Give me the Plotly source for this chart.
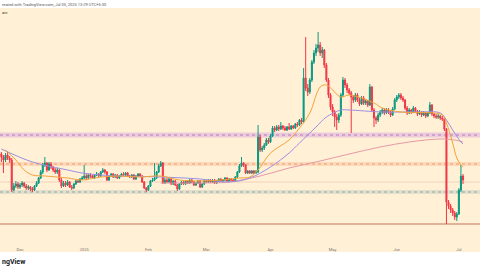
import pandas as pd
import plotly.graph_objects as go

# ---------------- data ----------------
start_date = "2024-11-22"
first_open = 1.70
closes = [1.67, 1.64, 1.69, 1.66, 1.64, 1.34, 1.38, 1.40, 1.37, 1.39,
          1.41, 1.38, 1.36, 1.37, 1.35, 1.34, 1.38, 1.41, 1.46, 1.52,
          1.59, 1.61, 1.54, 1.60, 1.57, 1.54, 1.52, 1.54, 1.44, 1.38,
          1.41, 1.39, 1.42, 1.37, 1.36, 1.40, 1.43, 1.42, 1.45, 1.46,
          1.48, 1.46, 1.49, 1.48, 1.46, 1.49, 1.50, 1.48, 1.52, 1.54,
          1.52, 1.44, 1.48, 1.50, 1.47, 1.49, 1.46, 1.48, 1.50, 1.49,
          1.51, 1.48, 1.47, 1.49, 1.45, 1.48, 1.50, 1.48, 1.42, 1.36,
          1.34, 1.38, 1.43, 1.44, 1.46, 1.52, 1.58, 1.61, 1.41, 1.44,
          1.42, 1.45, 1.40, 1.43, 1.39, 1.35, 1.40, 1.42, 1.40, 1.43,
          1.41, 1.44, 1.42, 1.39, 1.41, 1.43, 1.37, 1.40, 1.43, 1.42,
          1.44, 1.42, 1.44, 1.41, 1.43, 1.45, 1.43, 1.44, 1.46, 1.43,
          1.45, 1.44, 1.43, 1.47, 1.52, 1.58, 1.61, 1.59, 1.51, 1.53,
          1.51, 1.53, 1.51, 1.52, 1.87, 1.74, 1.76, 1.79, 1.84, 1.82,
          1.88, 1.96, 1.94, 1.97, 1.95, 1.98, 1.96, 1.94, 1.97, 1.95,
          1.98, 1.96, 2.00, 1.99, 2.04, 2.02, 2.46, 2.36, 2.32, 2.44,
          2.62, 2.71, 2.76, 2.79, 2.71, 2.74, 2.59, 2.44, 2.29, 2.17,
          2.12, 2.07, 2.04, 2.09, 2.29, 2.44, 2.39, 2.34, 2.31, 2.27,
          2.24, 2.29, 2.24, 2.20, 2.26, 2.21, 2.23, 2.19, 2.37, 2.14,
          2.06, 2.04, 2.09, 2.12, 2.14, 2.11, 2.14, 2.12, 2.09, 2.15,
          2.24, 2.27, 2.29, 2.26, 2.24, 2.16, 2.11, 2.14, 2.12, 2.16,
          2.13, 2.10, 2.12, 2.09, 2.11, 2.08, 2.11, 2.19, 2.10, 2.08,
          2.07, 2.08, 2.06, 2.05, 1.95, 1.22, 1.18, 1.14, 1.11, 1.07,
          1.10, 1.34, 1.48, 1.44]
highs = [1.72, 1.69, 1.71, 1.72, 1.68, 1.66, 1.41, 1.43, 1.42, 1.41,
         1.43, 1.42, 1.40, 1.39, 1.38, 1.37, 1.39, 1.43, 1.47, 1.54,
         1.61, 1.67, 1.62, 1.62, 1.62, 1.58, 1.56, 1.56, 1.55, 1.46,
         1.43, 1.43, 1.44, 1.43, 1.39, 1.41, 1.44, 1.45, 1.46, 1.48,
         1.59, 1.50, 1.50, 1.51, 1.49, 1.50, 1.52, 1.51, 1.53, 1.56,
         1.55, 1.53, 1.49, 1.51, 1.51, 1.50, 1.50, 1.49, 1.51, 1.52,
         1.52, 1.52, 1.49, 1.50, 1.50, 1.49, 1.51, 1.51, 1.49, 1.43,
         1.37, 1.39, 1.44, 1.46, 1.61, 1.53, 1.60, 1.63, 1.62, 1.46,
         1.46, 1.47, 1.46, 1.44, 1.44, 1.40, 1.41, 1.43, 1.43, 1.44,
         1.44, 1.45, 1.45, 1.43, 1.42, 1.44, 1.44, 1.41, 1.44, 1.44,
         1.45, 1.45, 1.45, 1.45, 1.44, 1.46, 1.46, 1.45, 1.47, 1.47,
         1.46, 1.46, 1.45, 1.48, 1.53, 1.60, 1.67, 1.62, 1.60, 1.54,
         1.54, 1.54, 1.54, 1.54, 1.99, 1.89, 1.78, 1.81, 1.86, 1.86,
         1.90, 1.98, 1.98, 1.99, 1.99, 2.02, 1.99, 1.98, 1.98, 2.01,
         1.99, 1.99, 2.01, 2.02, 2.05, 2.06, 2.56, 2.87, 2.40, 2.46,
         2.64, 2.74, 2.80, 2.92, 2.82, 2.77, 2.75, 2.61, 2.46, 2.31,
         2.20, 2.14, 2.10, 2.11, 2.31, 2.47, 2.46, 2.41, 2.36, 2.33,
         2.29, 2.31, 2.31, 2.26, 2.28, 2.28, 2.25, 2.24, 2.40, 2.38,
         2.16, 2.08, 2.11, 2.14, 2.16, 2.16, 2.16, 2.16, 2.14, 2.17,
         2.26, 2.29, 2.31, 2.31, 2.28, 2.25, 2.18, 2.16, 2.15, 2.18,
         2.17, 2.14, 2.14, 2.13, 2.13, 2.12, 2.12, 2.22, 2.20, 2.11,
         2.10, 2.10, 2.09, 2.08, 2.06, 1.96, 1.24, 1.20, 1.16, 1.13,
         1.12, 1.36, 1.59, 1.50]
lows = [1.62, 1.51, 1.62, 1.64, 1.61, 1.32, 1.33, 1.36, 1.35, 1.35,
        1.37, 1.36, 1.34, 1.34, 1.33, 1.32, 1.33, 1.37, 1.40, 1.45,
        1.50, 1.57, 1.52, 1.53, 1.55, 1.52, 1.50, 1.50, 1.42, 1.36,
        1.37, 1.37, 1.38, 1.36, 1.34, 1.35, 1.39, 1.41, 1.41, 1.44,
        1.45, 1.44, 1.45, 1.46, 1.45, 1.45, 1.48, 1.47, 1.47, 1.51,
        1.50, 1.43, 1.43, 1.47, 1.46, 1.46, 1.45, 1.45, 1.47, 1.48,
        1.48, 1.47, 1.46, 1.46, 1.44, 1.44, 1.47, 1.47, 1.41, 1.35,
        1.32, 1.33, 1.37, 1.42, 1.43, 1.45, 1.51, 1.57, 1.40, 1.40,
        1.41, 1.41, 1.39, 1.39, 1.38, 1.33, 1.34, 1.39, 1.39, 1.39,
        1.40, 1.40, 1.41, 1.38, 1.38, 1.40, 1.36, 1.36, 1.39, 1.41,
        1.41, 1.41, 1.41, 1.40, 1.40, 1.42, 1.42, 1.42, 1.43, 1.42,
        1.42, 1.43, 1.42, 1.42, 1.46, 1.51, 1.57, 1.57, 1.50, 1.50,
        1.50, 1.50, 1.50, 1.50, 1.51, 1.72, 1.72, 1.74, 1.78, 1.80,
        1.81, 1.87, 1.92, 1.93, 1.93, 1.94, 1.94, 1.93, 1.93, 1.94,
        1.94, 1.95, 1.95, 1.97, 1.98, 2.00, 2.01, 2.33, 2.28, 2.30,
        2.42, 2.60, 2.68, 2.72, 2.68, 2.66, 2.56, 2.42, 2.26, 2.14,
        2.08, 1.97, 1.94, 2.01, 2.07, 2.27, 2.36, 2.31, 2.29, 1.91,
        2.21, 2.22, 2.22, 2.18, 2.19, 2.19, 2.19, 2.17, 2.18, 2.12,
        1.97, 2.00, 2.02, 2.07, 2.10, 2.09, 2.10, 2.10, 2.07, 2.08,
        2.14, 2.22, 2.25, 2.24, 2.22, 2.14, 2.09, 2.10, 2.10, 2.11,
        2.11, 2.08, 2.09, 2.07, 2.08, 2.06, 2.07, 2.10, 2.08, 2.06,
        2.05, 2.05, 2.04, 2.03, 1.93, 1.00, 1.15, 1.11, 1.08, 1.04,
        1.03, 1.09, 1.32, 1.40]

ma_fast_dates = ["2024-11-24", "2024-11-29", "2024-12-03", "2024-12-07", "2024-12-13",
                 "2024-12-24", "2024-12-31", "2025-01-09", "2025-01-18", "2025-01-28",
                 "2025-02-07", "2025-02-16", "2025-02-26", "2025-03-08", "2025-03-17",
                 "2025-03-22", "2025-03-26", "2025-04-01", "2025-04-10", "2025-04-15",
                 "2025-04-20", "2025-04-25", "2025-04-28", "2025-05-05", "2025-05-09",
                 "2025-05-21", "2025-05-25", "2025-06-03", "2025-06-19", "2025-06-23",
                 "2025-06-25", "2025-06-28", "2025-06-30", "2025-07-02", "2025-07-03"]
ma_fast = [1.74, 1.64, 1.54, 1.49, 1.48, 1.46, 1.44, 1.47, 1.48, 1.47,
           1.48, 1.44, 1.43, 1.44, 1.46, 1.47, 1.54, 1.71, 1.84, 1.96,
           2.11, 2.37, 2.39, 2.27, 2.29, 2.21, 2.16, 2.12, 2.11, 2.09,
           2.01, 1.81, 1.66, 1.59, 1.57]

ma_mid_dates = ["2024-11-22", "2024-12-07", "2024-12-24", "2024-12-31", "2025-01-09",
                "2025-01-18", "2025-02-07", "2025-02-26", "2025-03-12", "2025-03-22",
                "2025-04-01", "2025-04-10", "2025-04-15", "2025-04-23", "2025-04-28",
                "2025-05-05", "2025-05-09", "2025-05-25", "2025-06-11", "2025-06-22",
                "2025-06-25", "2025-06-28", "2025-07-02", "2025-07-03"]
ma_mid = [1.75, 1.62, 1.54, 1.51, 1.49, 1.48, 1.47, 1.45, 1.42, 1.46,
          1.57, 1.71, 1.81, 1.97, 2.07, 2.14, 2.14, 2.12, 2.12, 2.11,
          2.04, 1.94, 1.82, 1.80]

ma_slow_dates = ["2025-02-07", "2025-02-26", "2025-03-12", "2025-03-27", "2025-04-10",
                 "2025-04-25", "2025-05-09", "2025-05-24", "2025-06-07", "2025-06-22",
                 "2025-06-29", "2025-07-03"]
ma_slow = [1.41, 1.41, 1.42, 1.48, 1.56, 1.63, 1.70, 1.77, 1.82, 1.85, 1.84, 1.82]

# horizontal levels (price): zones as (low, high)
zone_purple = (1.865, 1.915)
zone_orange = (1.58, 1.62)
zone_gray = (1.30, 1.34)
level_thin = 1.42
level_support = 1.00

month_ticks = ["2024-12-01", "2025-01-01", "2025-02-01", "2025-03-01",
               "2025-04-01", "2025-05-01", "2025-06-01", "2025-07-01"]
month_labels = ["Dec", "2025", "Feb", "Mar", "Apr", "May", "Jun", "Jul"]

# ---------------- figure ----------------
dates = pd.date_range(start_date, periods=len(closes), freq="D")
opens = [first_open] + closes[:-1]

BG = "#fff0d6"
fig = go.Figure()

# beige panel extending under the time axis (drawn first, lowest)
fig.add_shape(type="rect", xref="paper", x0=0, x1=1, yref="paper", y0=-12 / 232, y1=1,
              fillcolor=BG, line=dict(width=0), layer="below")

# zones
for (lo, hi), fill, line in [
        (zone_purple, "rgba(206,150,220,0.40)", "rgba(170,100,195,0.8)"),
        (zone_orange, "rgba(250,185,150,0.40)", "rgba(235,135,80,0.8)"),
        (zone_gray, "rgba(195,205,195,0.50)", "rgba(140,150,140,0.8)")]:
    fig.add_shape(type="rect", xref="paper", x0=0, x1=1, yref="y", y0=lo, y1=hi,
                  fillcolor=fill, line=dict(width=0), layer="below")
    fig.add_shape(type="line", xref="paper", x0=0, x1=1, yref="y",
                  y0=(lo + hi) / 2, y1=(lo + hi) / 2,
                  line=dict(color=line, width=1, dash="dot"), layer="below")

fig.add_shape(type="line", xref="paper", x0=0, x1=1, yref="y", y0=level_thin, y1=level_thin,
              line=dict(color="#f3d2bc", width=1), layer="below")
fig.add_shape(type="line", xref="paper", x0=0, x1=1, yref="y", y0=level_support, y1=level_support,
              line=dict(color="#c8705a", width=1), layer="below")

fig.add_trace(go.Candlestick(
    x=dates, open=opens, high=highs, low=lows, close=closes,
    increasing=dict(line=dict(color="#089981", width=1), fillcolor="#089981"),
    decreasing=dict(line=dict(color="#f23645", width=1), fillcolor="#f23645"),
    whiskerwidth=0, showlegend=False, hoverinfo="skip"))

fig.add_trace(go.Scatter(x=pd.to_datetime(ma_slow_dates), y=ma_slow, mode="lines",
                         line=dict(color="#e59aa6", width=1, shape="spline"),
                         showlegend=False, hoverinfo="skip"))
fig.add_trace(go.Scatter(x=pd.to_datetime(ma_mid_dates), y=ma_mid, mode="lines",
                         line=dict(color="#9d8fe0", width=1, shape="spline"),
                         showlegend=False, hoverinfo="skip"))
fig.add_trace(go.Scatter(x=pd.to_datetime(ma_fast_dates), y=ma_fast, mode="lines",
                         line=dict(color="#f2a43a", width=1, shape="spline"),
                         showlegend=False, hoverinfo="skip"))

fig.add_annotation(text="reated with TradingView.com, Jul 05, 2025 13:29 UTC+5:30",
                   xref="paper", yref="paper", x=0, y=(240 - 4) / 232,
                   xanchor="left", yanchor="middle", showarrow=False,
                   font=dict(size=4, color="#555555", family="Roboto"))
fig.add_annotation(text="ain", xref="paper", yref="paper", x=0, y=(240 - 12) / 232,
                   xanchor="left", yanchor="middle", showarrow=False,
                   font=dict(size=4, color="#333333", family="Roboto"))
fig.add_annotation(text="<b>ngView</b>", xref="paper", yref="paper", x=0, y=(240 - 262) / 232,
                   xanchor="left", yanchor="middle", showarrow=False,
                   font=dict(size=7, color="#131722", family="Roboto"))

fig.update_layout(
    width=480, height=270,
    margin=dict(l=0, r=0, t=8, b=30),
    paper_bgcolor="white", plot_bgcolor=BG,
    xaxis=dict(type="date", range=["2024-11-21 08:00", "2025-07-11 05:00"],
               tickvals=pd.to_datetime(month_ticks), ticktext=month_labels,
               showgrid=False, zeroline=False, showline=False,
               ticks="outside", ticklen=5, tickcolor=BG,
               tickfont=dict(size=4, color="#777777", family="Roboto"),
               rangeslider=dict(visible=False), fixedrange=True),
    yaxis=dict(range=[0.84, 3.16], showgrid=False, zeroline=False,
               showticklabels=False, showline=False, fixedrange=True),
    showlegend=False,
)

fig.write_html("out.html")
